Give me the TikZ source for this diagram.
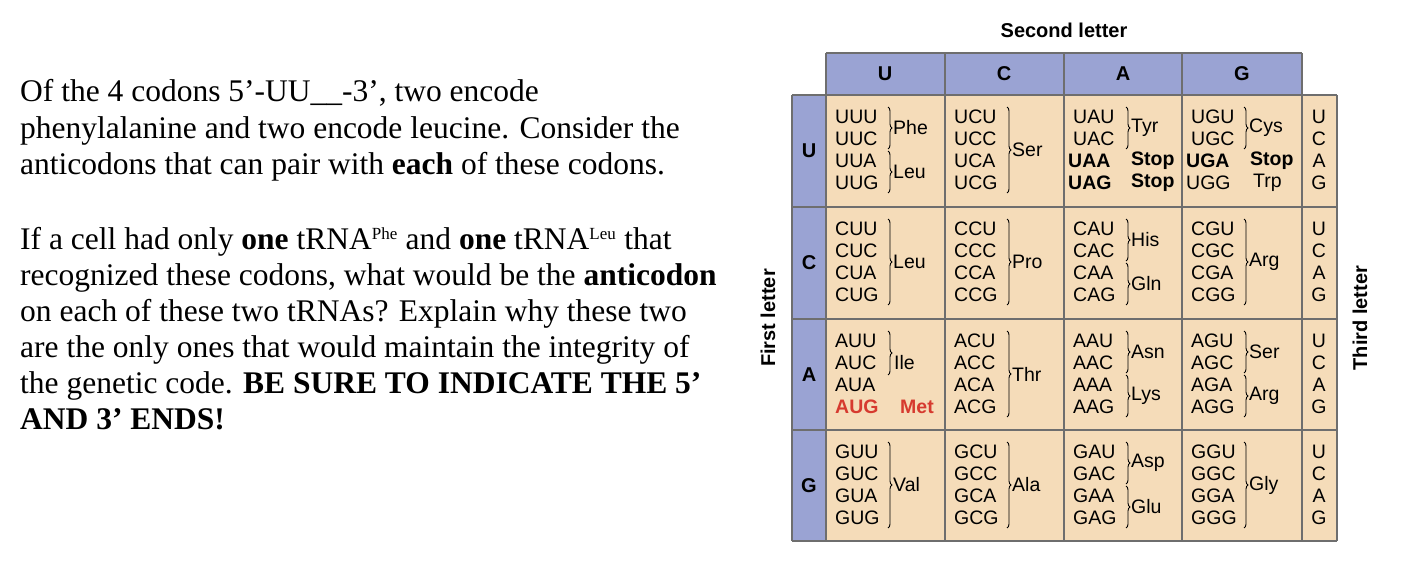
\documentclass[tikz,border=0pt]{standalone}
\usepackage{fontspec}
\setmainfont{Liberation Serif}
\newfontfamily\arial{Liberation Sans}
\usetikzlibrary{decorations.pathreplacing}
\definecolor{hdr}{HTML}{9AA3D3}
\definecolor{tan}{HTML}{F5DCB9}
\definecolor{grid}{HTML}{6E6E6E}
\definecolor{metred}{HTML}{D63A2F}
\tikzset{
  para/.style={anchor=base west,inner sep=0pt,font=\fontsize{31.5}{36}\selectfont},
  cod/.style={anchor=west,inner sep=0pt,font=\arial\fontsize{19.5}{22}\selectfont},
  bcod/.style={cod,font=\arial\bfseries\fontsize{19.5}{22}\selectfont},
  lab/.style={inner sep=0pt,font=\arial\bfseries\fontsize{20}{22}\selectfont},
  brc/.style={decorate,decoration={brace,amplitude=4pt},line width=0.9pt},
  cellbox/.style={draw=grid,line width=1.8pt}
}
\newcommand\cd[5]{\node[cod] (#1) at ({#2+9},{#3+22*#4}) {#5};}
\newcommand\br[6]{\draw[brc] ({#1+62},{#2+22*#3-10}) -- ({#1+62},{#2+22*#4+10});
  \node[cod] (#6) at ({#1+67},{#2+11*(#3+#4)}) {#5};}
\begin{document}
\begin{tikzpicture}[x=1pt,y=-1pt]
\useasboundingbox (0,0) rectangle (1408,568);
% left text
\node[para] (p1) at (20,101) {Of the 4 codons 5’-UU\_\_-3’, two encode};
\node[para] (p2) at (20,138) {phenylalanine and two encode leucine. Consider the};
\node[para] (p3) at (20,174) {anticodons that can pair with \textbf{each} of these codons.};
\node[para] (p4) at (20,249) {If a cell had only \textbf{one} tRNA\textsuperscript{\fontsize{17}{18}\selectfont Phe} and \textbf{one} tRNA\textsuperscript{\fontsize{17}{18}\selectfont Leu} that};
\node[para] (p5) at (20,285) {recognized these codons, what would be the \textbf{anticodon}};
\node[para] (p6) at (20,321) {on each of these two tRNAs? Explain why these two};
\node[para] (p7) at (20,357) {are the only ones that would maintain the integrity of};
\node[para] (p8) at (20,393) {the genetic code. \textbf{BE SURE TO INDICATE THE 5’}};
\node[para] (p9) at (20,429) {\textbf{AND 3’ ENDS!}};
% table backgrounds
\fill[hdr] (826,53) rectangle (1302,95);
\fill[hdr] (792,95) rectangle (826,541);
\fill[tan] (826,95) rectangle (1337,541);
\foreach \x in {826,945,1064,1182,1302} \draw[cellbox] (\x,53) -- (\x,541);
\draw[cellbox] (1337,95) -- (1337,541);
\draw[cellbox] (792,95) -- (792,541);
\draw[cellbox] (826,53) -- (1302,53);
\foreach \y in {95,207,319,430,541} \draw[cellbox] (792,\y) -- (1337,\y);
% headers
\node[lab] (secl) at (1064,30) {Second letter};
\node[lab,rotate=90] (firstl) at (768,318) {First letter};
\node[lab,rotate=90] (thirdl) at (1360,318) {Third letter};
\foreach \l/\x in {U/885,C/1004,A/1123,G/1242} \node[lab] (h\l) at (\x,74) {\l};
\foreach \l/\y in {U/151,C/263,A/375,G/486} \node[lab] (r\l) at (809,\y) {\l};
\foreach \y in {95,207,319,430} {
  \foreach \l/\i in {U/1,C/2,A/3,G/4} \node[cod,anchor=center] at (1319,{\y+22*\i}) {\l};
}
% Row U
\cd{a1}{826}{95}{1}{UUU}\cd{a2}{826}{95}{2}{UUC}\cd{a3}{826}{95}{3}{UUA}\cd{a4}{826}{95}{4}{UUG}
\br{826}{95}{1}{2}{Phe}{phe}\br{826}{95}{3}{4}{Leu}{leu1}
\cd{b1}{945}{95}{1}{UCU}\cd{b2}{945}{95}{2}{UCC}\cd{b3}{945}{95}{3}{UCA}\cd{b4}{945}{95}{4}{UCG}
\br{945}{95}{1}{4}{Ser}{ser1}
\cd{c1}{1064}{95}{1}{UAU}\cd{c2}{1064}{95}{2}{UAC}
\node[bcod] (c3) at (1068,161) {UAA};\node[bcod] (c3s) at (1131,161) {Stop};
\node[bcod] (c4) at (1068,183) {UAG};\node[bcod] (c4s) at (1131,183) {Stop};
\br{1064}{95}{1}{2}{Tyr}{tyr}
\cd{d1}{1182}{95}{1}{UGU}\cd{d2}{1182}{95}{2}{UGC}
\node[bcod] (d3) at (1186,161) {UGA};\node[bcod] (d3s) at (1250,161) {Stop};
\node[cod] (d4) at (1186,183) {UGG};\node[cod] (d4s) at (1253,183) {Trp};
\br{1182}{95}{1}{2}{Cys}{cys}
% Row C
\cd{e1}{826}{207}{1}{CUU}\cd{e2}{826}{207}{2}{CUC}\cd{e3}{826}{207}{3}{CUA}\cd{e4}{826}{207}{4}{CUG}
\br{826}{207}{1}{4}{Leu}{leu2}
\cd{f1}{945}{207}{1}{CCU}\cd{f2}{945}{207}{2}{CCC}\cd{f3}{945}{207}{3}{CCA}\cd{f4}{945}{207}{4}{CCG}
\br{945}{207}{1}{4}{Pro}{pro}
\cd{g1}{1064}{207}{1}{CAU}\cd{g2}{1064}{207}{2}{CAC}\cd{g3}{1064}{207}{3}{CAA}\cd{g4}{1064}{207}{4}{CAG}
\br{1064}{207}{1}{2}{His}{his}\br{1064}{207}{3}{4}{Gln}{gln}
\cd{h1}{1182}{207}{1}{CGU}\cd{h2}{1182}{207}{2}{CGC}\cd{h3}{1182}{207}{3}{CGA}\cd{h4}{1182}{207}{4}{CGG}
\br{1182}{207}{1}{4}{Arg}{arg1}
% Row A
\cd{i1}{826}{319}{1}{AUU}\cd{i2}{826}{319}{2}{AUC}\cd{i3}{826}{319}{3}{AUA}
\node[bcod,text=metred] (i4) at (835,407) {AUG};\node[bcod,text=metred] (i4s) at (900,407) {Met};
\draw[brc] (888,331) -- (888,375);
\node[cod] (ile) at (894,363) {Ile};
\cd{j1}{945}{319}{1}{ACU}\cd{j2}{945}{319}{2}{ACC}\cd{j3}{945}{319}{3}{ACA}\cd{j4}{945}{319}{4}{ACG}
\br{945}{319}{1}{4}{Thr}{thr}
\cd{k1}{1064}{319}{1}{AAU}\cd{k2}{1064}{319}{2}{AAC}\cd{k3}{1064}{319}{3}{AAA}\cd{k4}{1064}{319}{4}{AAG}
\br{1064}{319}{1}{2}{Asn}{asn}\br{1064}{319}{3}{4}{Lys}{lys}
\cd{l1}{1182}{319}{1}{AGU}\cd{l2}{1182}{319}{2}{AGC}\cd{l3}{1182}{319}{3}{AGA}\cd{l4}{1182}{319}{4}{AGG}
\br{1182}{319}{1}{2}{Ser}{ser2}\br{1182}{319}{3}{4}{Arg}{arg2}
% Row G
\cd{m1}{826}{430}{1}{GUU}\cd{m2}{826}{430}{2}{GUC}\cd{m3}{826}{430}{3}{GUA}\cd{m4}{826}{430}{4}{GUG}
\br{826}{430}{1}{4}{Val}{val}
\cd{n1}{945}{430}{1}{GCU}\cd{n2}{945}{430}{2}{GCC}\cd{n3}{945}{430}{3}{GCA}\cd{n4}{945}{430}{4}{GCG}
\br{945}{430}{1}{4}{Ala}{ala}
\cd{o1}{1064}{430}{1}{GAU}\cd{o2}{1064}{430}{2}{GAC}\cd{o3}{1064}{430}{3}{GAA}\cd{o4}{1064}{430}{4}{GAG}
\br{1064}{430}{1}{2}{Asp}{asp}\br{1064}{430}{3}{4}{Glu}{glu}
\cd{q1}{1182}{430}{1}{GGU}\cd{q2}{1182}{430}{2}{GGC}\cd{q3}{1182}{430}{3}{GGA}\cd{q4}{1182}{430}{4}{GGG}
\br{1182}{430}{1}{4}{Gly}{gly}
\end{tikzpicture}
\end{document}
